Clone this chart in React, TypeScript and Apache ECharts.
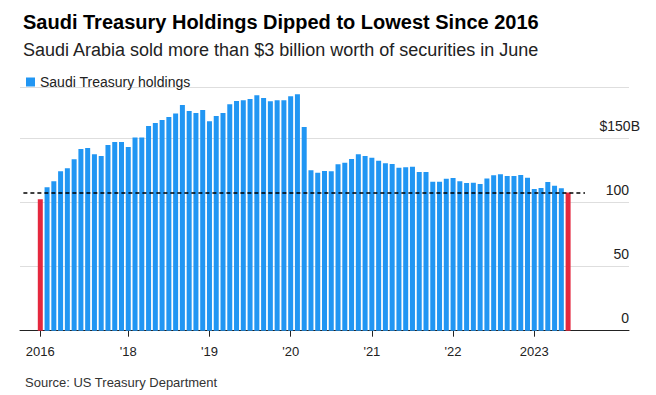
import React, { useEffect, useRef } from "react";
import * as echarts from "echarts";

// Monthly holdings, Dec 2016 .. Jun 2023 ($B)
const startYear = 2016;
const startMonth = 12;
const values: number[] = [
  102.6,
  112, 116.7, 124.5, 126.9, 133.9, 142, 142.7, 137.8, 136.5, 145.1, 147.4, 147.4,
  143.5, 151, 151, 160, 162.3, 164.6, 167, 169.6, 176.3, 171.6, 170, 172.4,
  163.6, 167.7, 170, 176.9, 179.5, 180, 181, 183.9, 181.8, 179.2, 180, 180,
  183.1, 184.7, 159.1, 125.3, 123.4, 124.8, 124.5, 130, 131.3, 134.1, 137.8, 136.5,
  135.2, 132.8, 130.8, 130.2, 127.4, 127.6, 128.1, 124, 124, 116.4, 116.4, 118.8,
  119.3, 116.7, 115.4, 115.6, 114.6, 119, 121.4, 122.2, 120.9, 120.9, 121.6, 119.5,
  110.7, 111.5, 116.2, 113.3, 111.2, 108,
];
const months: string[] = values.map((_, i) => {
  const m0 = startMonth - 1 + i;
  const y = startYear + Math.floor(m0 / 12);
  const m = (m0 % 12) + 1;
  return `${y}-${String(m).padStart(2, "0")}`;
});
const xTickMonths = ["2016-12", "2018-01", "2019-01", "2020-01", "2021-01", "2022-01", "2023-01"];
const xTickLabels = ["2016", "'18", "'19", "'20", "'21", "'22", "2023"];
const yTicks = [0, 50, 100, 150];
const yTickLabels = ["0", "50", "100", "$150B"];
const highlightMonths = [months[0], months[months.length - 1]];

const BLUE = "#2196f3";
const RED = "#e5283e";
const FONT = "'Liberation Sans', Arial, Helvetica, sans-serif";
const UNIT_W = 11;

export default function App() {
  const ref = useRef<HTMLDivElement>(null);
  useEffect(() => {
    document.body.style.margin = "0";
    if (!ref.current) return;
    const chart = echarts.init(ref.current, undefined, { renderer: "svg" });
    const xTickIdx = xTickMonths.map((m) => months.indexOf(m));
    const lastValue = values[values.length - 1];
    const topTick = yTicks[yTicks.length - 1];
    chart.setOption({
      animation: false,
      textStyle: { fontFamily: FONT },
      title: [
        {
          text: "Saudi Treasury Holdings Dipped to Lowest Since 2016",
          left: 23,
          top: 12,
          padding: 0,
          textStyle: { fontSize: 20, fontWeight: "bold", color: "#000", fontFamily: FONT },
        },
        {
          text: "Saudi Arabia sold more than $3 billion worth of securities in June",
          left: 23,
          top: 41,
          padding: 0,
          textStyle: { fontSize: 18, fontWeight: "normal", color: "#222", fontFamily: FONT },
        },
        {
          text: "Source: US Treasury Department",
          left: 25,
          top: 376,
          padding: 0,
          textStyle: { fontSize: 13, fontWeight: "normal", color: "#333", fontFamily: FONT },
        },
      ],
      legend: {
        left: 21,
        top: 70,
        icon: "rect",
        itemWidth: 9,
        itemHeight: 9,
        itemGap: 6,
        textStyle: { fontSize: 14, color: "#222", fontFamily: FONT },
        data: ["Saudi Treasury holdings"],
      },
      grid: { left: 20, right: 27, top: 87.5, bottom: 64.3 },
      xAxis: {
        type: "value",
        min: -3,
        max: 87,
        splitLine: { show: false },
        axisLine: { show: true, lineStyle: { color: "#222", width: 1 } },
        axisTick: {
          show: true,
          length: 6,
          customValues: xTickIdx,
          lineStyle: { color: "#222" },
        },
        axisLabel: {
          customValues: xTickIdx,
          fontSize: 13,
          color: "#222",
          margin: 14,
          formatter: (v: number) => {
            const k = xTickIdx.indexOf(Math.round(v));
            return k >= 0 ? xTickLabels[k] : "";
          },
        },
      },
      yAxis: {
        type: "value",
        position: "right",
        min: 0,
        max: 190,
        interval: 50,
        axisLine: { show: false },
        axisTick: { show: false },
        splitLine: { show: true, lineStyle: { color: "#dedede", width: 1 } },
        axisLabel: {
          inside: true,
          margin: -UNIT_W,
          fontSize: 14,
          color: "#222",
          verticalAlign: "bottom",
          padding: [0, 0, 6, 0],
          formatter: (v: number) => {
            const k = yTicks.indexOf(v);
            if (k < 0) return "";
            return v === topTick ? `{u|${yTickLabels[k]}}` : `{n|${yTickLabels[k]}}`;
          },
          rich: {
            n: { fontSize: 14, color: "#222", fontFamily: FONT, padding: [0, UNIT_W, 0, 0] },
            u: { fontSize: 14, color: "#222", fontFamily: FONT },
          },
        },
      },
      series: [
        {
          name: "Saudi Treasury holdings",
          type: "bar",
          barWidth: 5,
          itemStyle: { color: BLUE },
          data: values.map((v, i) => ({
            value: [i, v],
            itemStyle: highlightMonths.includes(months[i]) ? { color: RED } : undefined,
          })),
          markLine: {
            silent: true,
            symbol: "none",
            label: { show: false },
            lineStyle: { color: "#000", type: [4, 3], width: 1.5 },
            data: [[{ coord: [-2.5, lastValue] }, { coord: [80.5, lastValue] }]],
          },
        },
      ],
    });
    return () => chart.dispose();
  }, []);
  return <div ref={ref} style={{ width: 656, height: 395 }} />;
}
